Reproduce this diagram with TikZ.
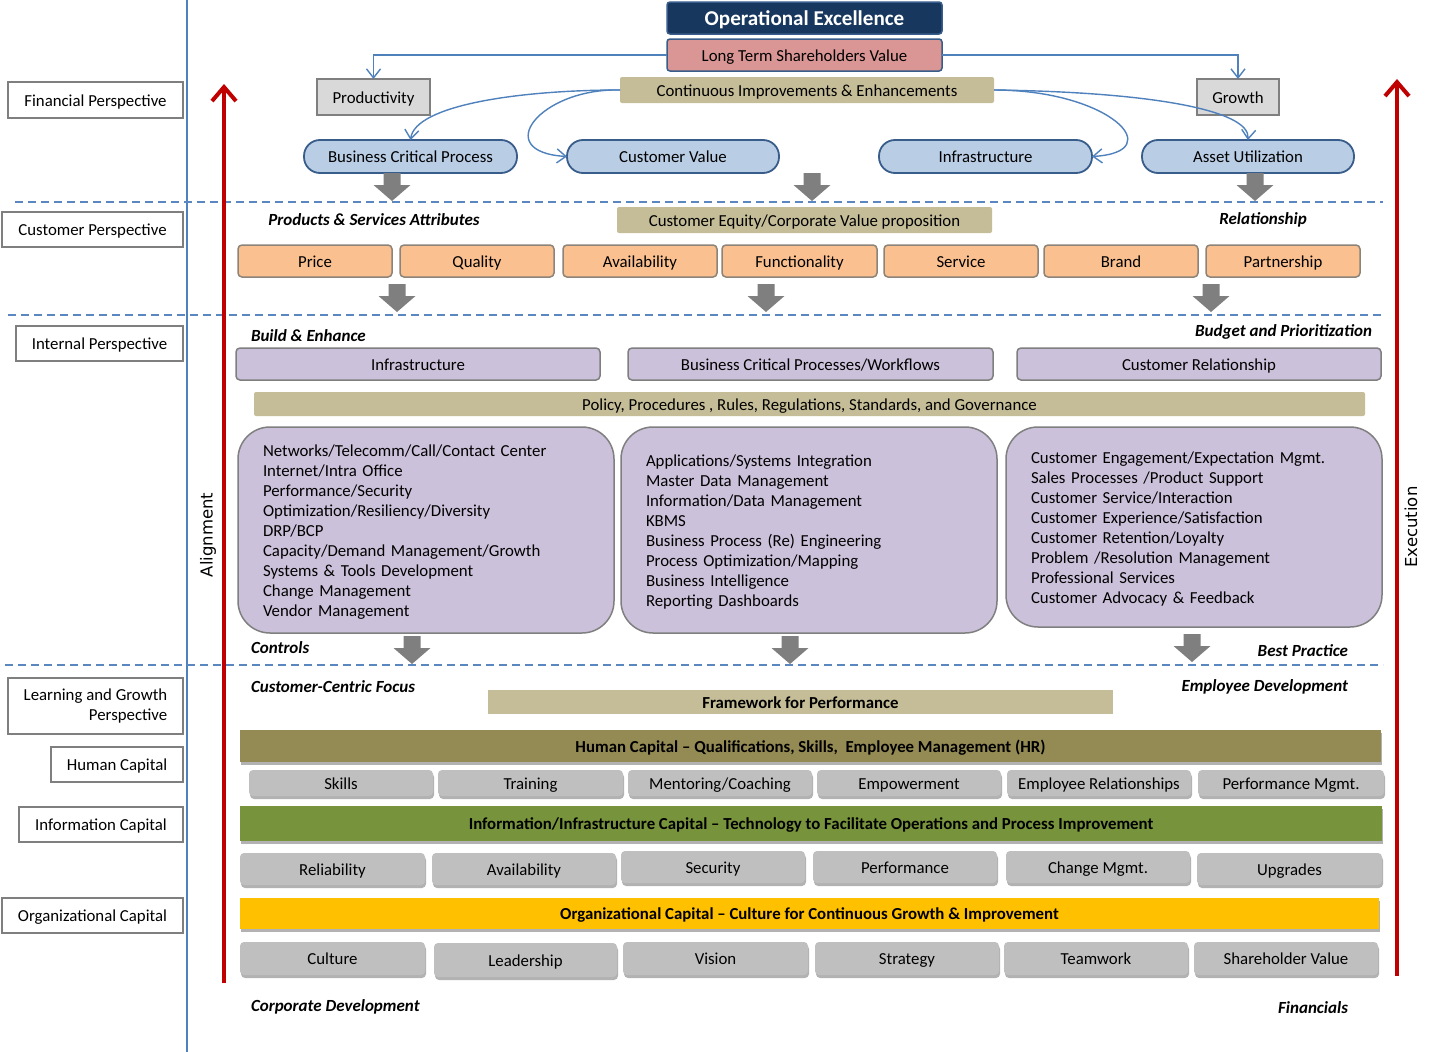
\documentclass[tikz,border=0pt]{standalone}
\usepackage{fontspec}
\setmainfont{Carlito}
\newfontfamily\dejavu{DejaVu Sans}
\usetikzlibrary{arrows.meta,shadows}
\definecolor{navy}{HTML}{17375E}
\definecolor{navyb}{HTML}{385D8A}
\definecolor{pinkf}{HTML}{D99694}
\definecolor{cgrayb}{HTML}{7F7F7F}
\definecolor{cgrayf}{HTML}{D9D9D9}
\definecolor{tanc}{HTML}{C4BD97}
\definecolor{pillf}{HTML}{B9CDE5}
\definecolor{pillb}{HTML}{385D8A}
\definecolor{orf}{HTML}{FAC090}
\definecolor{orb}{HTML}{8C8479}
\definecolor{lavf}{HTML}{CCC1DA}
\definecolor{capgray}{HTML}{BFBFBF}
\definecolor{hcol}{HTML}{948A54}
\definecolor{icol}{HTML}{77933C}
\definecolor{ocol}{HTML}{FFC000}
\definecolor{connb}{HTML}{4F81BD}
\definecolor{dashb}{HTML}{5B87C0}
\definecolor{redc}{HTML}{C00000}
\definecolor{arrg}{HTML}{7F7F7F}
\newcommand\mybox[7]{\node[#1,minimum width={(#5)-(#3)},minimum height={(#6)-(#4)}] (#2) at ({((#3)+(#5))/2},{((#4)+(#6))/2}) {#7};}
\tikzset{
 every node/.style={inner sep=0pt, outer sep=0pt, font=\fontsize{16.8}{20}\selectfont},
 tc/.style={text height=12pt, text depth=0pt},
 lbl/.style={draw=cgrayb, line width=1.5pt, fill=white},
 opex/.style={draw=navyb, fill=navy, line width=1.5pt, rounded corners=3pt, text=white, font=\bfseries\fontsize{21.1}{24}\selectfont, text height=14.5pt, text depth=0pt},
 ltsv/.style={tc, draw=navyb, fill=pinkf, line width=1.5pt, rounded corners=3pt},
 pill/.style={tc, draw=pillb, fill=pillf, line width=1.8pt, rounded corners=16pt},
 gbox/.style={tc, draw=cgrayb, fill=cgrayf, line width=1.5pt},
 tanbar/.style={tc, fill=tanc, rounded corners=2pt},
 orng/.style={tc, draw=orb, fill=orf, line width=1.5pt, rounded corners=4pt},
 lav/.style={tc, draw=cgrayb, fill=lavf, line width=1.5pt, rounded corners=4pt},
 biglav/.style={draw=cgrayb, fill=lavf, line width=1.5pt, rounded corners=32pt},
 shad/.style={drop shadow={shadow xshift=1pt, shadow yshift=-3pt, opacity=.3, fill=black}},
 capbox/.style={tc, fill=capgray, rounded corners=4pt, shad},
 bar/.style={tc, shad, font=\bfseries\fontsize{16.8}{20}\selectfont},
 bi/.style={font=\bfseries\itshape\fontsize{17}{20}\selectfont},
 listtxt/.style={anchor=base west, text width=340pt, align=left},
 conn/.style={draw=connb, line width=1.4pt, -{Straight Barb[length=9pt,width=14pt]}},
 dashline/.style={draw=dashb, line width=1.8pt, dash pattern=on 8pt off 5pt},
 redarr/.style={draw=redc, line width=4pt, -{Straight Barb[length=14pt,width=24pt]}},
 darr/.pic={\fill[arrg] (-8.5,0) -- (8.5,0) -- (8.5,12) -- (18.5,12) -- (0,28) -- (-18.5,12) -- (-8.5,12) -- cycle;},
}
\begin{document}
\begin{tikzpicture}[x=1pt,y=-1pt]
\useasboundingbox (0,0) rectangle (1435,1052);
\fill[white] (0,0) rectangle (1435,1052);
% separators
\draw[connb, line width=1.5pt] (187,0) -- (187,1052);
\draw[dashline] (15,202) -- (1383,202);
\draw[dashline] (8,315) -- (1383,315);
\draw[dashline] (5,665) -- (1383,665);
% left labels
\mybox{lbl,tc}{fp}{8}{82}{183}{118}{Financial Perspective}
\mybox{lbl,tc}{cp}{2}{212}{183}{247}{Customer Perspective}
\mybox{lbl,tc}{ip}{16}{326}{183}{361}{Internal Perspective}
\mybox{lbl,align=right}{lg}{8}{678}{183}{734}{Learning and Growth\\Perspective}
\mybox{lbl,tc}{hc}{51}{747}{183}{782}{Human Capital}
\mybox{lbl,tc}{ic}{19}{807}{183}{842}{Information Capital}
\mybox{lbl,tc}{oc}{2}{898}{183}{933}{Organizational Capital}
% red arrows
\coordinate (la0) at (224,983); \coordinate (la1) at (224,84);
\coordinate (ra0) at (1397,976); \coordinate (ra1) at (1397,79);
\draw[redarr] (la0) -- (la1);
\draw[redarr] (ra0) -- (ra1);
\node[rotate=90, font=\dejavu\fontsize{16.5}{20}\selectfont] (alig) at (208,535) {Alignment};
\node[rotate=90, font=\dejavu\fontsize{16.5}{20}\selectfont] (exec) at (1411,527) {Execution};
% financial
\mybox{opex}{oe}{667}{2}{942}{34}{Operational Excellence}
\mybox{ltsv}{lt}{667}{39}{942}{71}{Long Term Shareholders Value}
\mybox{gbox}{prod}{317}{79}{430}{115}{Productivity}
\mybox{gbox}{grow}{1197}{79}{1279}{115}{Growth}
\mybox{tanbar}{ci}{620}{77}{994}{103}{Continuous Improvements \& Enhancements}
\mybox{pill}{bcp}{304}{140}{517}{173}{Business Critical Process}
\mybox{pill}{cv}{567}{140}{779}{173}{Customer Value}
\mybox{pill}{inf}{879}{140}{1092}{173}{Infrastructure}
\mybox{pill}{au}{1142}{140}{1354}{173}{Asset Utilization}
\draw[conn] (lt.west) -| (prod.north);
\draw[conn] (lt.east) -| (grow.north);
\draw[conn] (ci.west) .. controls (520,90) and (415,105) .. (bcp.north);
\draw[conn] (ci.west) .. controls (540,88) and (490,152) .. (cv.west);
\draw[conn] (ci.east) .. controls (1110,90) and (1170,152) .. (inf.east);
\draw[conn] (ci.east) .. controls (1150,92) and (1250,110) .. (au.north);
\pic at (392,173) {darr};
\pic at (812,173) {darr};
\pic at (1255,173) {darr};
% customer
\node[bi] (psa) at (374,220) {Products \& Services Attributes};
\mybox{tanbar}{ceq}{617}{207}{992}{233}{Customer Equity/Corporate Value proposition}
\node[bi] (rel) at (1263,220) {Relationship};
\mybox{orng}{price}{238}{245}{392}{277}{Price}
\mybox{orng}{qual}{400}{245}{554}{277}{Quality}
\mybox{orng}{avail}{563}{245}{717}{277}{Availability}
\mybox{orng}{func}{722}{245}{877}{277}{Functionality}
\mybox{orng}{serv}{884}{245}{1038}{277}{Service}
\mybox{orng}{brand}{1044}{245}{1198}{277}{Brand}
\mybox{orng}{part}{1206}{245}{1360}{277}{Partnership}
\pic at (397,284) {darr};
\pic at (766,284) {darr};
\pic at (1211,284) {darr};
% internal
\node[bi,anchor=west] (be) at (251,336) {Build \& Enhance};
\node[bi,anchor=east] (bpz) at (1372,332) {Budget and Prioritization};
\mybox{lav}{infr}{236}{348}{600}{380}{Infrastructure}
\mybox{lav}{bcpw}{628}{348}{993}{380}{Business Critical Processes/Workflows}
\mybox{lav}{crel}{1017}{348}{1381}{380}{Customer Relationship}
\mybox{tanbar}{pol}{254}{392}{1365}{416}{Policy, Procedures , Rules, Regulations, Standards, and Governance}
\mybox{biglav}{bl1}{238}{427}{614}{633}{}
\mybox{biglav}{bl2}{621}{427}{997}{633}{}
\mybox{biglav}{bl3}{1006}{427}{1382}{627}{}
\node[listtxt] (t1) at (263,456) {Networks/Telecomm/Call/Contact Center\\Internet/Intra Office\\Performance/Security\\Optimization/Resiliency/Diversity\\DRP/BCP\\Capacity/Demand Management/Growth\\Systems \& Tools Development\\Change Management\\Vendor Management};
\node[listtxt] (t2) at (646,466) {Applications/Systems Integration\\Master Data Management\\Information/Data Management\\KBMS\\Business Process (Re) Engineering\\Process Optimization/Mapping\\Business Intelligence\\Reporting Dashboards};
\node[listtxt] (t3) at (1031,463) {Customer Engagement/Expectation Mgmt.\\Sales Processes /Product Support\\Customer Service/Interaction\\Customer Experience/Satisfaction\\Customer Retention/Loyalty\\Problem /Resolution Management\\Professional Services\\Customer Advocacy \& Feedback};
\pic at (412,636) {darr};
\pic at (790,636) {darr};
\pic at (1192,634) {darr};
\node[bi,anchor=west] (ctl) at (251,648) {Controls};
\node[bi,anchor=east] (bpr) at (1348,651) {Best Practice};
% learning and growth
\node[bi,anchor=west] (ccf) at (251,687) {Customer-Centric Focus};
\node[bi,anchor=east] (edv) at (1348,687) {Employee Development};
\mybox{tc,fill=tanc,font=\bfseries\fontsize{16.8}{20}\selectfont}{ffp}{488}{690}{1113}{714}{Framework for Performance}
\mybox{bar,fill=hcol}{hbar}{240}{730}{1381}{762}{Human Capital -- Qualifications, Skills, \ Employee Management (HR)}
\mybox{capbox}{s1}{249}{770}{433}{796}{Skills}
\mybox{capbox}{s2}{438}{770}{623}{796}{Training}
\mybox{capbox}{s3}{628}{770}{812}{796}{Mentoring/Coaching}
\mybox{capbox}{s4}{817}{770}{1001}{796}{Empowerment}
\mybox{capbox}{s5}{1007}{770}{1191}{796}{Employee Relationships}
\mybox{capbox}{s6}{1198}{770}{1384}{796}{Performance Mgmt.}
\mybox{bar,fill=icol}{ibar}{240}{806}{1382}{841}{Information/Infrastructure Capital -- Technology to Facilitate Operations and Process Improvement}
\mybox{capbox}{r1}{240}{853}{425}{885}{Reliability}
\mybox{capbox}{r2}{432}{853}{616}{885}{Availability}
\mybox{capbox}{r3}{621}{851}{805}{883}{Security}
\mybox{capbox}{r4}{813}{851}{997}{883}{Performance}
\mybox{capbox}{r5}{1006}{851}{1190}{883}{Change Mgmt.}
\mybox{capbox}{r6}{1197}{853}{1382}{885}{Upgrades}
\mybox{bar,fill=ocol}{obar}{240}{898}{1379}{929}{Organizational Capital -- Culture for Continuous Growth \& Improvement}
\mybox{capbox}{c1}{240}{942}{425}{975}{Culture}
\mybox{capbox}{c2}{434}{943}{617}{977}{Leadership}
\mybox{capbox}{c3}{623}{942}{808}{975}{Vision}
\mybox{capbox}{c4}{815}{942}{999}{975}{Strategy}
\mybox{capbox}{c5}{1004}{942}{1188}{975}{Teamwork}
\mybox{capbox}{c6}{1194}{942}{1378}{975}{Shareholder Value}
\node[bi,anchor=west] (cdev) at (251,1007) {Corporate Development};
\node[bi,anchor=east] (fin) at (1348,1008) {Financials};
\end{tikzpicture}
\end{document}
